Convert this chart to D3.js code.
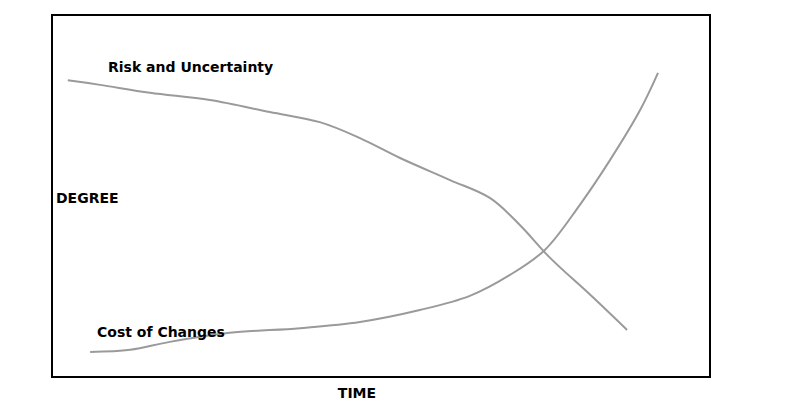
<!DOCTYPE html>
<html><head><meta charset="utf-8">
<script src="https://cdn.jsdelivr.net/npm/d3@7"></script>
<style>body{margin:0;background:#fff}text{font-family:"DejaVu Sans",sans-serif;font-weight:bold;font-size:14px;fill:#000}</style>
</head><body><svg id="c" width="800" height="408"></svg>
<script>
const riskTime=[2.4,7.3,14.9,24,33.1,40.7,46.8,52.9,60.5,66.6,71.1,75.7,81.8,87.4];
const riskDegree=[82,80.7,78.5,76.5,73.2,70.4,66,60.5,54.4,49.4,42,32.9,22.7,13];
const costTime=[5.8,11.9,17.9,27,37.7,46.8,55.9,63.5,69.6,74.9,80.2,84.8,89.4,92.1];
const costDegree=[6.9,7.5,9.7,12.2,13.5,15.2,18.5,22.4,28.2,35.1,47.5,59.9,73.8,84];
const svg=d3.select("#c");
const x=d3.scaleLinear().domain([0,100]).range([52,710]);
const y=d3.scaleLinear().domain([0,100]).range([377,15]);
svg.append("rect").attr("x",x(0)).attr("y",y(100)).attr("width",x(100)-x(0)).attr("height",y(0)-y(100)).attr("fill","none").attr("stroke","#000").attr("stroke-width",2);
const line=d3.line().x(d=>x(d[0])).y(d=>y(d[1])).curve(d3.curveCatmullRom);
[[riskTime,riskDegree],[costTime,costDegree]].forEach(([t,v])=>{
 svg.append("path").attr("d",line(t.map((d,i)=>[d,v[i]]))).attr("fill","none").attr("stroke","#9a9a9a").attr("stroke-width",2);
});
svg.append("text").attr("x",108).attr("y",72).text("Risk and Uncertainty");
svg.append("text").attr("x",56).attr("y",203).text("DEGREE");
svg.append("text").attr("x",97).attr("y",337).text("Cost of Changes");
svg.append("text").attr("x",357).attr("y",398).attr("text-anchor","middle").text("TIME");
</script></body></html>
